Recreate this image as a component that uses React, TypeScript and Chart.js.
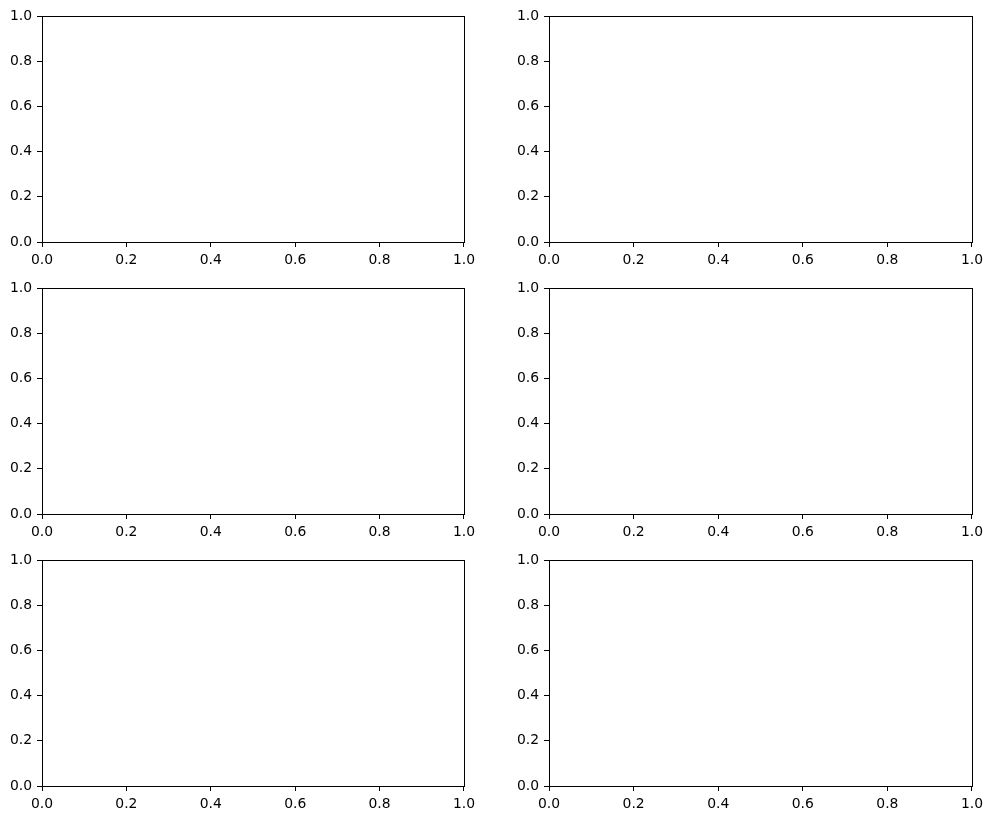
import { Chart, registerables } from "chart.js";
import { useEffect, useRef } from "react";

Chart.register(...registerables);

const tickValues = [0, 0.2, 0.4, 0.6, 0.8, 1.0];
const tickLabels = ["0.0", "0.2", "0.4", "0.6", "0.8", "1.0"];

const rowTops = [15, 287, 559];
const colLefts = [42, 549];
const plotWidths = [422, 423];
const plotHeight = 227;

const Y_AXIS_W = 42;
const X_AXIS_H = 36;
const PAD_TOP = 12;
const PAD_RIGHT = 16;

const spinePlugin = {
    id: "spines",
    afterDraw: (chart: Chart) => {
        const { ctx, chartArea } = chart;
        ctx.save();
        ctx.strokeStyle = "#000";
        ctx.lineWidth = 1;
        ctx.strokeRect(
            Math.round(chartArea.left) + 0.5,
            Math.round(chartArea.top) + 0.5,
            Math.round(chartArea.right - chartArea.left),
            Math.round(chartArea.bottom - chartArea.top)
        );
        ctx.restore();
    },
};

const axisOptions = (fit: (scale: any) => void, padding: number) => ({
    type: "linear" as const,
    min: 0,
    max: 1,
    afterBuildTicks: (scale: any) => {
        scale.ticks = tickValues.map((value) => ({ value }));
    },
    afterFit: fit,
    ticks: {
        callback: (_value: any, index: number) => tickLabels[index],
        color: "#000",
        padding: padding,
        maxRotation: 0,
        autoSkip: false,
        font: { family: "DejaVu Sans", size: 13.9 },
    },
    grid: {
        drawOnChartArea: false,
        drawTicks: true,
        tickLength: 5,
        tickColor: "#000",
        tickWidth: 1,
    },
    border: { display: false },
});

const Panel: React.FC<{ left: number; top: number; width: number }> = ({ left, top, width }) => {
    const chartRef = useRef<HTMLCanvasElement>(null);

    useEffect(() => {
        if (chartRef.current) {
            const ctx = chartRef.current.getContext("2d");
            if (ctx) {
                const chart = new Chart(ctx, {
                    type: "scatter",
                    data: { datasets: [] },
                    plugins: [spinePlugin],
                    options: {
                        animation: false,
                        responsive: true,
                        maintainAspectRatio: false,
                        layout: { padding: { top: PAD_TOP, right: PAD_RIGHT, left: 0, bottom: 0 } },
                        plugins: {
                            legend: { display: false },
                            tooltip: { enabled: false },
                        },
                        scales: {
                            x: axisOptions((scale) => { scale.height = X_AXIS_H; }, 5),
                            y: axisOptions((scale) => { scale.width = Y_AXIS_W; }, 5),
                        },
                    },
                });

                return () => {
                    chart.destroy();
                };
            }
        }
    }, []);

    return (
        <div
            style={{
                position: "absolute",
                left: left - Y_AXIS_W,
                top: top - PAD_TOP,
                width: width + Y_AXIS_W + PAD_RIGHT,
                height: plotHeight + PAD_TOP + X_AXIS_H,
            }}
        >
            <canvas ref={chartRef}></canvas>
        </div>
    );
};

const App: React.FC = () => {
    return (
        <div style={{ position: "absolute", left: 0, top: 0, width: 992, height: 819, background: "#fff" }}>
            {rowTops.map((top) =>
                colLefts.map((left, c) => (
                    <Panel key={`${top}-${left}`} left={left} top={top} width={plotWidths[c]} />
                ))
            )}
        </div>
    );
};

export default App;
